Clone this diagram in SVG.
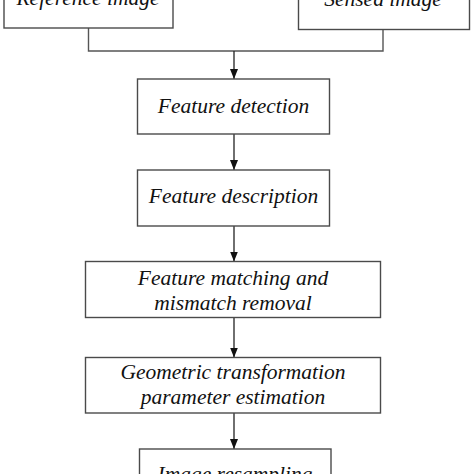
<svg xmlns="http://www.w3.org/2000/svg" width="474" height="474" viewBox="0 0 474 474">
<defs>
<style>
.box{fill:#fff;stroke:#4a4a4a;stroke-width:1.4}
.t{font-family:"Liberation Serif","Times New Roman",serif;font-style:italic;font-size:21.5px;fill:#111;text-anchor:middle}
.c{fill:none;stroke:#222;stroke-width:1.3}
.g{fill:none;stroke:#555;stroke-width:1.4}
</style>
<marker id="ah" markerWidth="10" markerHeight="8" refX="10" refY="4" orient="auto" markerUnits="userSpaceOnUse" viewBox="0 0 10 8">
<path d="M0,0 L10,4 L0,8 Z" fill="#111"/>
</marker>
</defs>
<rect width="474" height="474" fill="#fff"/>
<g id="connectors">
<polyline class="g" points="88.5,28 88.5,51 383,51 383,29.5"/>
<line class="c" x1="234" y1="51" x2="234" y2="79" marker-end="url(#ah)"/>
<line class="c" x1="234" y1="134" x2="234" y2="170" marker-end="url(#ah)"/>
<line class="c" x1="234" y1="226" x2="234" y2="261.5" marker-end="url(#ah)"/>
<line class="c" x1="234" y1="317.5" x2="234" y2="357.5" marker-end="url(#ah)"/>
<line class="c" x1="234" y1="413" x2="234" y2="449" marker-end="url(#ah)"/>
</g>
<g id="reference">
<rect class="box" x="4" y="-30" width="169" height="58"/>
<text class="t" x="88" y="5">Reference image</text>
</g>
<g id="sensed">
<rect class="box" x="298.5" y="-30" width="171" height="59.5"/>
<text class="t" x="383" y="6">Sensed image</text>
</g>
<g id="detection">
<rect class="box" x="137.5" y="79" width="192" height="55"/>
<text class="t" x="233.5" y="113">Feature detection</text>
</g>
<g id="description">
<rect class="box" x="137.5" y="170" width="192" height="56"/>
<text class="t" x="233.5" y="203">Feature description</text>
</g>
<g id="matching">
<rect class="box" x="85.5" y="261.5" width="295" height="56"/>
<text class="t" x="233" y="284.5">Feature matching and</text>
<text class="t" x="233" y="310">mismatch removal</text>
</g>
<g id="geometric">
<rect class="box" x="85.5" y="357.5" width="295" height="55.5"/>
<text class="t" x="233" y="378.5">Geometric transformation</text>
<text class="t" x="233" y="403.5">parameter estimation</text>
</g>
<g id="resampling">
<rect class="box" x="139.5" y="449" width="191.5" height="56"/>
<text class="t" x="235" y="481">Image resampling</text>
</g>
</svg>
